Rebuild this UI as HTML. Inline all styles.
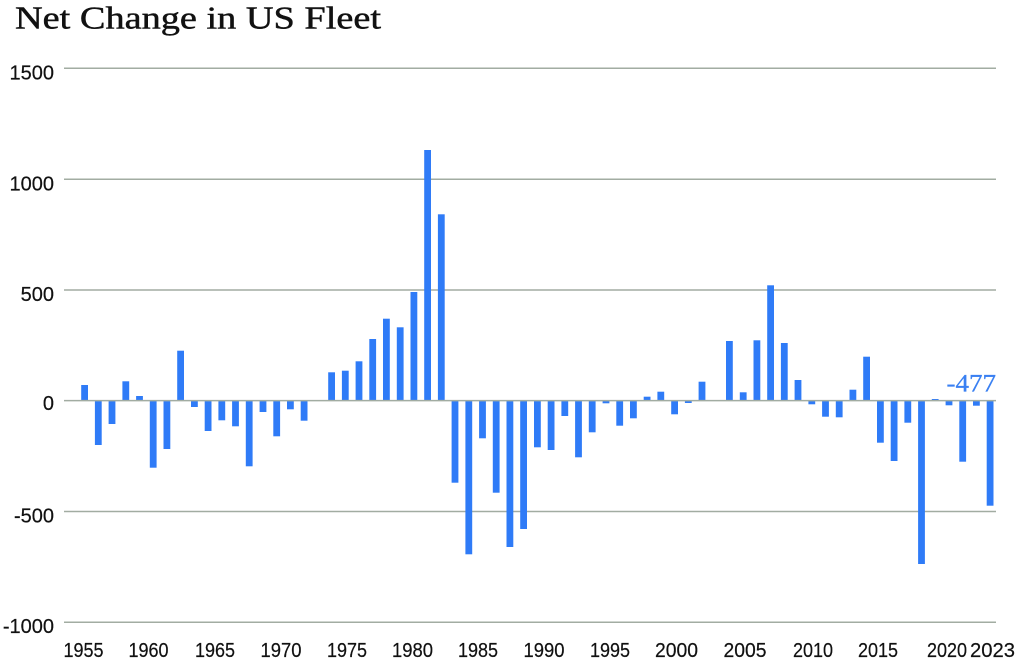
<!DOCTYPE html>
<html>
<head>
<meta charset="utf-8">
<style>
html,body{margin:0;padding:0;background:#fff;}
svg{display:block;}
</style>
</head>
<body>
<svg width="1024" height="662" viewBox="0 0 1024 662" xmlns="http://www.w3.org/2000/svg">
<rect width="1024" height="662" fill="#fff"/>
<text x="15" y="28.5" font-family="Liberation Serif, serif" font-size="32" fill="#111" stroke="#111" stroke-width="0.45" textLength="366" lengthAdjust="spacingAndGlyphs">Net Change in US Fleet</text>

<g stroke="#a2aca2" stroke-width="1.5">
<line x1="64" y1="68.3" x2="996" y2="68.3"/>
<line x1="64" y1="179.2" x2="996" y2="179.2"/>
<line x1="64" y1="290" x2="996" y2="290"/>
<line x1="64" y1="511.5" x2="996" y2="511.5"/>
<line x1="64" y1="622.3" x2="996" y2="622.3"/>
</g>

<g font-family="Liberation Sans, sans-serif" font-size="20" fill="#111" stroke="#111" stroke-width="0.2" text-anchor="end">
<text x="54" y="79.5">1500</text>
<text x="54" y="190.5">1000</text>
<text x="54" y="301">500</text>
<text x="54" y="410">0</text>
<text x="54" y="522.5">-500</text>
<text x="54" y="633">-1000</text>
</g>

<g fill="#2f7bf7">
<rect x="81.2" y="385" width="6.8" height="15.5"/>
<rect x="94.9" y="400.5" width="6.8" height="44.5"/>
<rect x="108.6" y="400.5" width="6.8" height="23.5"/>
<rect x="122.4" y="381.3" width="6.8" height="19.2"/>
<rect x="136.1" y="396" width="6.8" height="4.5"/>
<rect x="149.8" y="400.5" width="6.8" height="67.2"/>
<rect x="163.5" y="400.5" width="6.8" height="48.5"/>
<rect x="177.2" y="350.7" width="6.8" height="49.8"/>
<rect x="191.0" y="400.5" width="6.8" height="6.5"/>
<rect x="204.7" y="400.5" width="6.8" height="30.5"/>
<rect x="218.4" y="400.5" width="6.8" height="19.8"/>
<rect x="232.1" y="400.5" width="6.8" height="25.8"/>
<rect x="245.8" y="400.5" width="6.8" height="65.8"/>
<rect x="259.6" y="400.5" width="6.8" height="11.5"/>
<rect x="273.3" y="400.5" width="6.8" height="35.8"/>
<rect x="287.0" y="400.5" width="6.8" height="8.8"/>
<rect x="300.7" y="400.5" width="6.8" height="20.2"/>
<rect x="328.2" y="372.3" width="6.8" height="28.2"/>
<rect x="341.9" y="370.7" width="6.8" height="29.8"/>
<rect x="355.6" y="361.3" width="6.8" height="39.2"/>
<rect x="369.3" y="339" width="6.8" height="61.5"/>
<rect x="383.0" y="318.7" width="6.8" height="81.8"/>
<rect x="396.8" y="327.3" width="6.8" height="73.2"/>
<rect x="410.5" y="292" width="6.8" height="108.5"/>
<rect x="424.2" y="150" width="6.8" height="250.5"/>
<rect x="437.9" y="214.3" width="6.8" height="186.2"/>
<rect x="451.6" y="400.5" width="6.8" height="82.2"/>
<rect x="465.4" y="400.5" width="6.8" height="153.8"/>
<rect x="479.1" y="400.5" width="6.8" height="37.8"/>
<rect x="492.8" y="400.5" width="6.8" height="92.2"/>
<rect x="506.5" y="400.5" width="6.8" height="146.5"/>
<rect x="520.2" y="400.5" width="6.8" height="128.5"/>
<rect x="534.0" y="400.5" width="6.8" height="46.8"/>
<rect x="547.7" y="400.5" width="6.8" height="49.5"/>
<rect x="561.4" y="400.5" width="6.8" height="15.5"/>
<rect x="575.1" y="400.5" width="6.8" height="56.8"/>
<rect x="588.8" y="400.5" width="6.8" height="31.8"/>
<rect x="602.6" y="400.5" width="6.8" height="2.8"/>
<rect x="616.3" y="400.5" width="6.8" height="25.2"/>
<rect x="630.0" y="400.5" width="6.8" height="17.8"/>
<rect x="643.7" y="396.7" width="6.8" height="3.8"/>
<rect x="657.4" y="391.7" width="6.8" height="8.8"/>
<rect x="671.2" y="400.5" width="6.8" height="13.8"/>
<rect x="684.9" y="400.5" width="6.8" height="2.5"/>
<rect x="698.6" y="381.7" width="6.8" height="18.8"/>
<rect x="726.0" y="341" width="6.8" height="59.5"/>
<rect x="739.8" y="392.3" width="6.8" height="8.2"/>
<rect x="753.5" y="340.3" width="6.8" height="60.2"/>
<rect x="767.2" y="285.3" width="6.8" height="115.2"/>
<rect x="780.9" y="343" width="6.8" height="57.5"/>
<rect x="794.6" y="380" width="6.8" height="20.5"/>
<rect x="808.4" y="400.5" width="6.8" height="3.8"/>
<rect x="822.1" y="400.5" width="6.8" height="16.2"/>
<rect x="835.8" y="400.5" width="6.8" height="16.8"/>
<rect x="849.5" y="389.7" width="6.8" height="10.8"/>
<rect x="863.2" y="356.7" width="6.8" height="43.8"/>
<rect x="877.0" y="400.5" width="6.8" height="42.2"/>
<rect x="890.7" y="400.5" width="6.8" height="60.5"/>
<rect x="904.4" y="400.5" width="6.8" height="22.2"/>
<rect x="918.1" y="400.5" width="6.8" height="163.5"/>
<rect x="931.8" y="399" width="6.8" height="1.5"/>
<rect x="945.6" y="400.5" width="6.8" height="4.8"/>
<rect x="959.3" y="400.5" width="6.8" height="61.2"/>
<rect x="973.0" y="400.5" width="6.8" height="5.2"/>
<rect x="986.7" y="400.5" width="6.8" height="105.2"/>
</g>

<line x1="64" y1="400.6" x2="996" y2="400.6" stroke="#a2aca2" stroke-width="1.5"/>

<text x="946.5" y="391.5" font-family="Liberation Serif, serif" font-size="25" fill="#3a80f2" stroke="#3a80f2" stroke-width="0.3" textLength="49.5" lengthAdjust="spacingAndGlyphs">-477</text>

<g font-family="Liberation Sans, sans-serif" font-size="20" fill="#111" stroke="#111" stroke-width="0.2" text-anchor="middle">
<text x="83.5" y="657" textLength="40" lengthAdjust="spacingAndGlyphs">1955</text>
<text x="148.5" y="657" textLength="40" lengthAdjust="spacingAndGlyphs">1960</text>
<text x="215" y="657" textLength="40" lengthAdjust="spacingAndGlyphs">1965</text>
<text x="281" y="657" textLength="41" lengthAdjust="spacingAndGlyphs">1970</text>
<text x="347" y="657" textLength="40" lengthAdjust="spacingAndGlyphs">1975</text>
<text x="412.5" y="657" textLength="41" lengthAdjust="spacingAndGlyphs">1980</text>
<text x="478" y="657" textLength="40" lengthAdjust="spacingAndGlyphs">1985</text>
<text x="544" y="657" textLength="41" lengthAdjust="spacingAndGlyphs">1990</text>
<text x="610" y="657" textLength="40" lengthAdjust="spacingAndGlyphs">1995</text>
<text x="676.5" y="657" textLength="43" lengthAdjust="spacingAndGlyphs">2000</text>
<text x="745" y="657" textLength="43" lengthAdjust="spacingAndGlyphs">2005</text>
<text x="813" y="657" textLength="40" lengthAdjust="spacingAndGlyphs">2010</text>
<text x="878" y="657" textLength="40" lengthAdjust="spacingAndGlyphs">2015</text>
<text x="947" y="657" textLength="40" lengthAdjust="spacingAndGlyphs">2020</text>
<text x="992.5" y="657" textLength="45" lengthAdjust="spacingAndGlyphs">2023</text>
</g>
</svg>
</body>
</html>
